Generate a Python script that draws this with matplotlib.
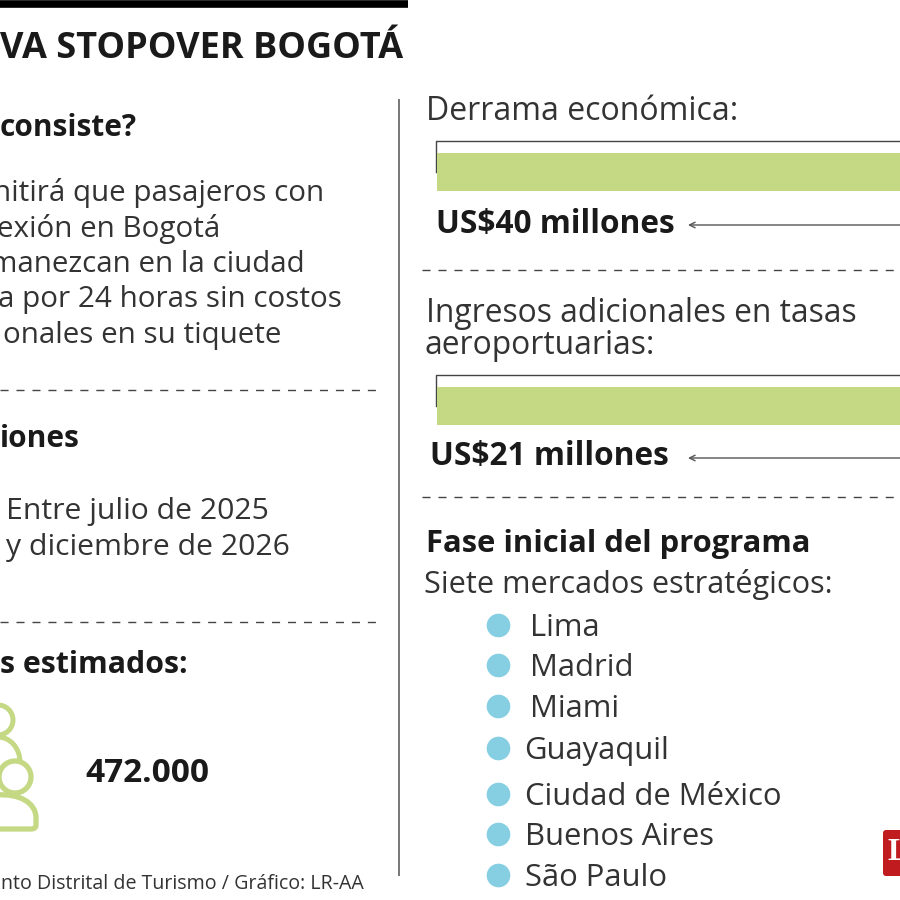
import matplotlib.pyplot as plt
from matplotlib.patches import Arc, Circle, FancyBboxPatch, PathPatch
from matplotlib.path import Path

plt.rcParams['font.family'] = ['Open Sans', 'DejaVu Sans']

# textos
titulo = "VA STOPOVER BOGOTÁ"
subtitulo_1 = "consiste?"
descripcion = ["nitirá que pasajeros con", "exión en Bogotá", "manezcan en la ciudad",
               "a por 24 horas sin costos", "onales en su tiquete"]
subtitulo_2 = "iones"
fechas = ["Entre julio de 2025", "y diciembre de 2026"]
subtitulo_3 = "s estimados:"
pasajeros = "472.000"
fuente = "nto Distrital de Turismo / Gráfico: LR-AA"

etiquetas_barras = ["US$40 millones", "US$21 millones"]
valores_barras = [40, 21]
mercados = ["Lima", "Madrid", "Miami", "Guayaquil", "Ciudad de México", "Buenos Aires", "São Paulo"]

VERDE = "#c5d985"
AZUL = "#86cfe3"
NEGRO = "#1a1a1a"
GRIS = "#333333"

fig = plt.figure(figsize=(9, 9), dpi=100)
ax = fig.add_axes([0, 0, 1, 1])
ax.set_xlim(0, 900)
ax.set_ylim(900, 0)
ax.axis("off")

# franja superior y titulo
ax.plot([0, 408], [4, 4], color="black", lw=5.5, solid_capstyle="butt")
ax.text(0, 49, titulo, fontsize=26.05, fontweight="bold", color=NEGRO, va="center")

# columna izquierda
ax.text(0, 128, subtitulo_1, fontsize=21.4, fontweight="bold", color=NEGRO, va="center")
x_desc = [-7, -3, -10, -2, 3]
for x, y, linea in zip(x_desc, [193, 229, 264, 300, 336], descripcion):
    ax.text(x, y, linea, fontsize=21.3, color=GRIS, va="center")
ax.text(0, 439, subtitulo_2, fontsize=21.5, fontweight="bold", color=NEGRO, va="center")
for (x, y), linea in zip([(6, 511), (6, 547)], fechas):
    ax.text(x, y, linea, fontsize=21.7, color=GRIS, va="center")
ax.text(0, 665, subtitulo_3, fontsize=21.8, fontweight="bold", color=NEGRO, va="center")
ax.text(85, 773, pasajeros, fontsize=24, fontweight="bold", color=NEGRO, va="center")
ax.text(1, 884, fuente, fontsize=14.1, color=GRIS, va="center")

# separadores
for x0, x1, y in [(0, 378, 390), (0, 378, 622), (422, 894, 270), (422, 894, 497)]:
    ax.plot([x0, x1], [y, y], color="#444444", lw=1, dashes=(5.8, 5.7))
ax.plot([399, 399], [100, 875], color="#777777", lw=1.4)

# icono pasajeros
ax.add_patch(Circle((-2, 720), 15, fc="white", ec=VERDE, lw=3.6))
ax.add_patch(Arc((-2, 762), 44, 50, theta1=270, theta2=360, ec=VERDE, lw=3.6))
cuerpo = Path([(-5, 795), (20, 793), (36, 803), (36, 818), (36, 825), (36, 829), (31, 829), (-5, 829)],
              [Path.MOVETO, Path.CURVE4, Path.CURVE4, Path.CURVE4, Path.LINETO, Path.CURVE3, Path.CURVE3, Path.LINETO])
ax.add_patch(PathPatch(cuerpo, fc="none", ec=VERDE, lw=3.8, capstyle="round"))
ax.add_patch(Circle((15, 777), 16, fc="white", ec=VERDE, lw=3.8, zorder=3))

# columna derecha: barras
ax.text(426, 112, "Derrama económica:", fontsize=23, color=GRIS, va="center")
ax.text(426, 314, "Ingresos adicionales en tasas", fontsize=22.9, color=GRIS, va="center")
ax.text(425, 346, "aeroportuarias:", fontsize=22.9, color=GRIS, va="center")

pos_barras = [172, 406]
pos_texto = [(436, 224), (430, 457)]
pos_flecha = [225, 458]
for y, val, et, (tx, ty), fy in zip(pos_barras, valores_barras, etiquetas_barras, pos_texto, pos_flecha):
    # las dos barras se salen del encuadre por la derecha
    ax.barh(y, 500, left=437, height=38, color=VERDE, zorder=2)
    ax.plot([436, 436, 900], [y, y - 31, y - 31], color="#444444", lw=1, zorder=1)
    ax.text(tx, ty, et, fontsize=22.8, fontweight="bold", color=NEGRO, va="center")
    ax.annotate("", xy=(688, fy), xytext=(900, fy),
                arrowprops=dict(arrowstyle="->", color="#555555", lw=1, shrinkA=0, shrinkB=0))

# fase inicial
ax.text(426, 544, "Fase inicial del programa", fontsize=22.3, fontweight="bold", color=NEGRO, va="center")
ax.text(424, 584, "Siete mercados estratégicos:", fontsize=22.1, color=GRIS, va="center")
y_mercados = [625, 665, 706, 748, 794, 834, 875]
x_mercados = [530, 530, 530, 524, 525, 525, 525]
for m, y, x in zip(mercados, y_mercados, x_mercados):
    ax.scatter([498], [y], s=290, color=AZUL, linewidths=0)
    ax.text(x, y + 3, m, fontsize=22.3, color=GRIS, va="center")

# logo
ax.add_patch(FancyBboxPatch((883, 830), 40, 46, boxstyle="round,pad=0,rounding_size=3", fc="#c01c20", ec="none"))
ax.text(887, 853, "L", fontsize=23, fontweight="bold", family="Liberation Serif", color="white", va="center")

fig.savefig("out.png", dpi=100)
